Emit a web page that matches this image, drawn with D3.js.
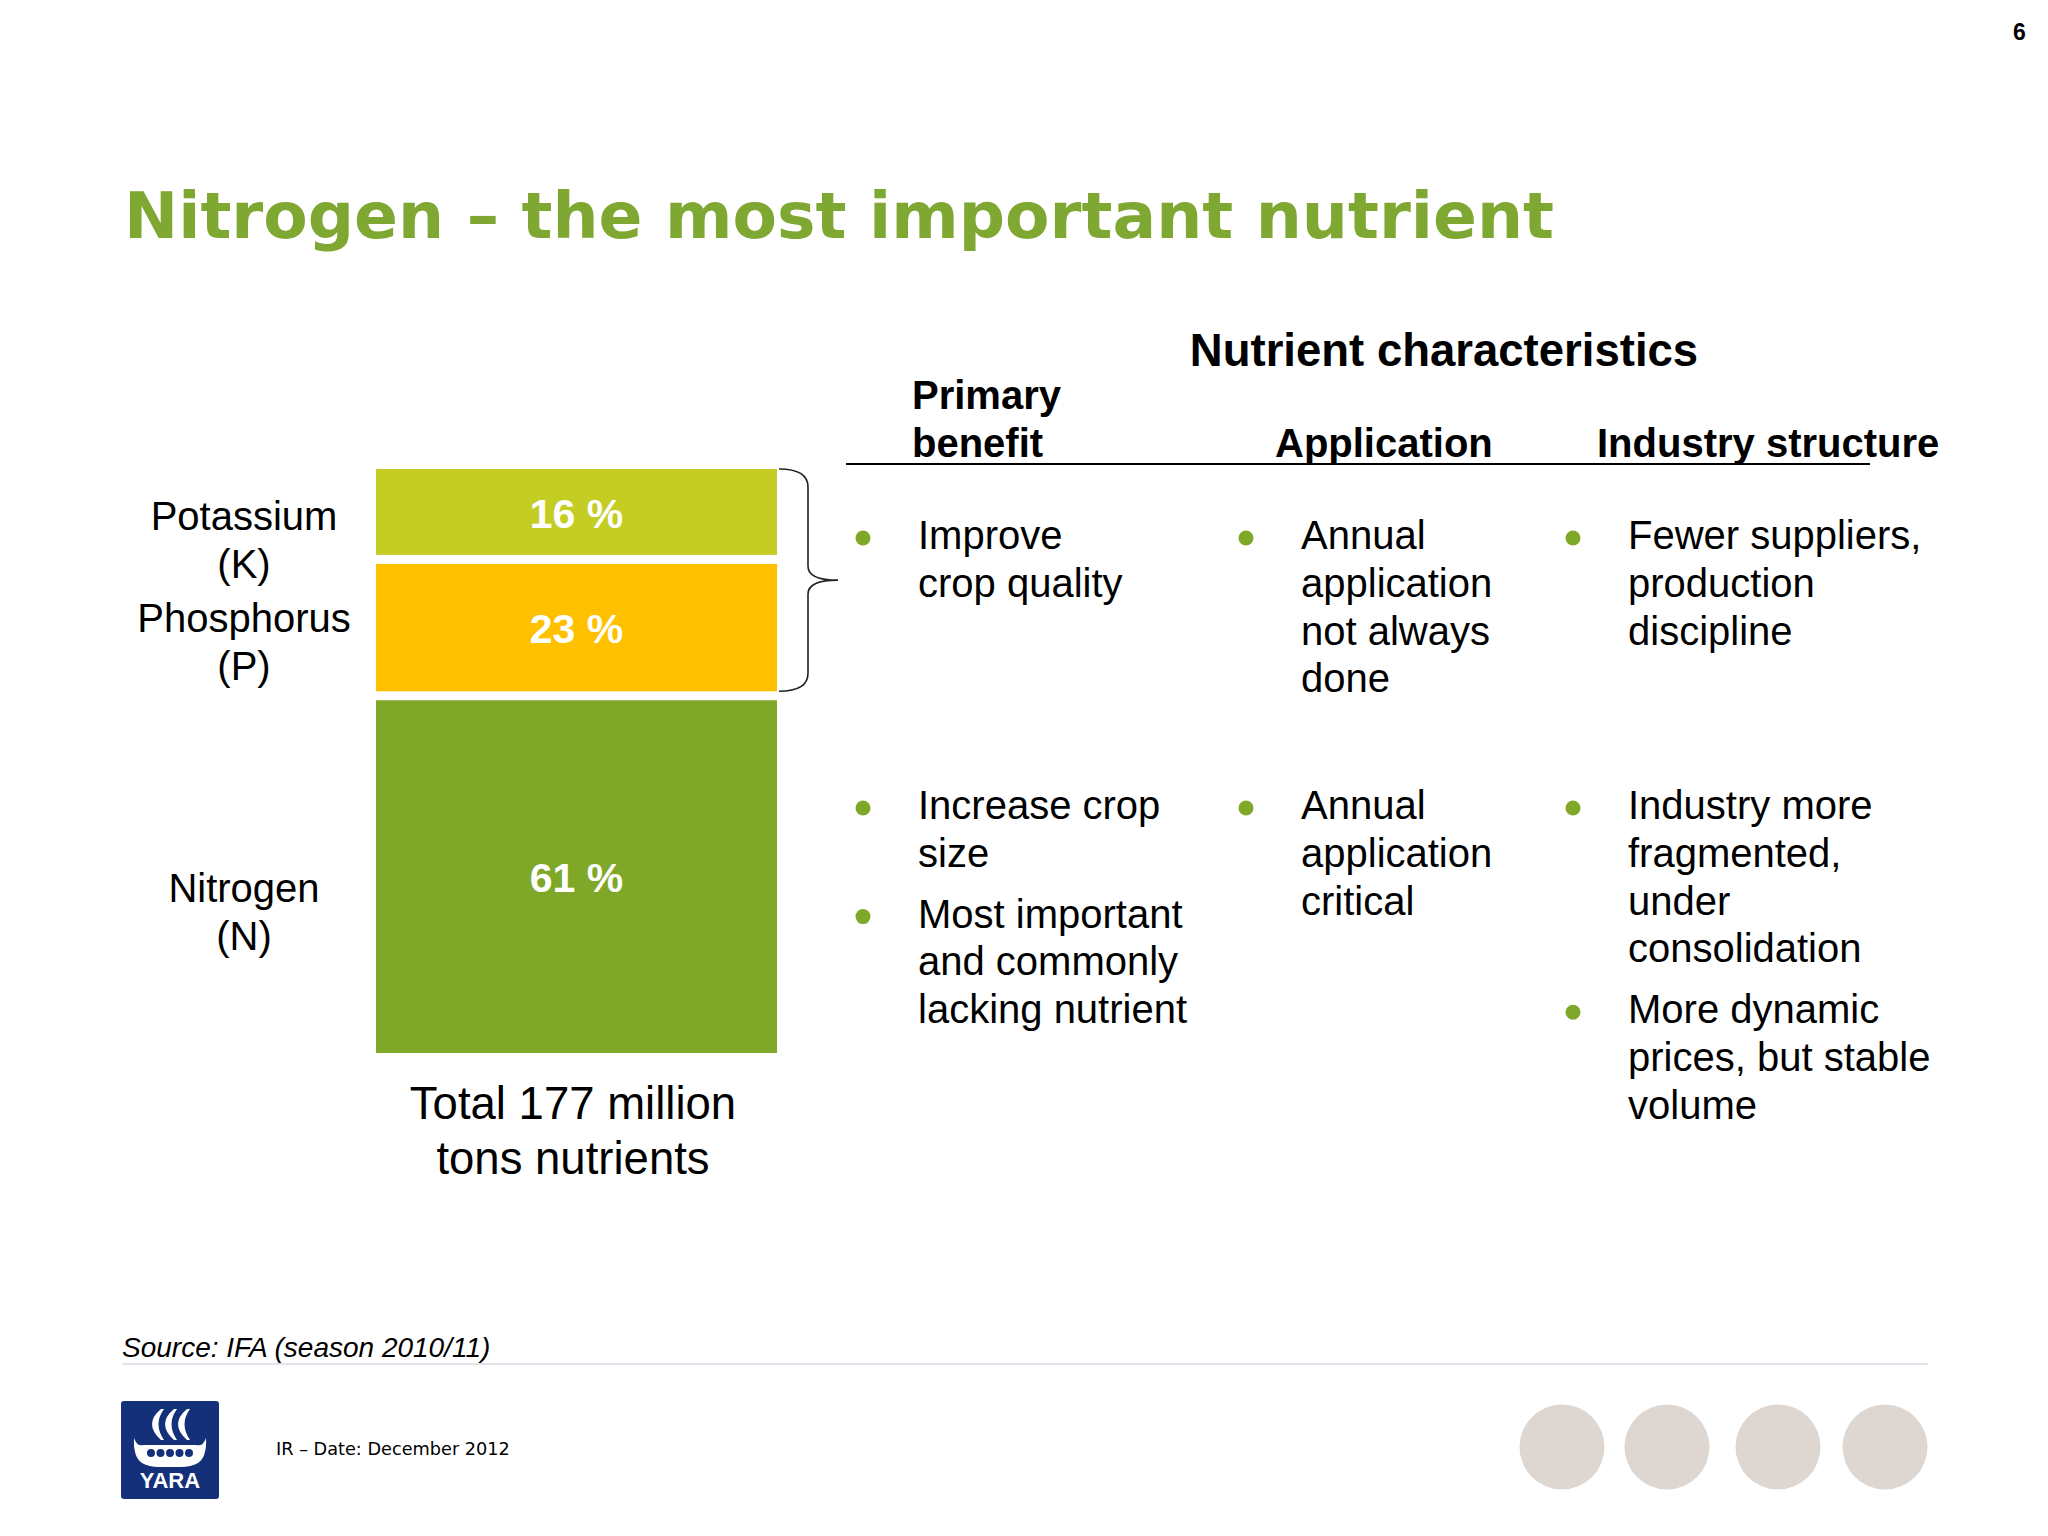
<!DOCTYPE html>
<html>
<head>
<meta charset="utf-8">
<script src="https://cdn.jsdelivr.net/npm/d3@7"></script>
<style>
  body { margin: 0; background: #fff; }
  svg { display: block; }
  text { font-family: "Liberation Sans", Arial, sans-serif; }
</style>
</head>
<body>
<div id="chart"></div>
<script>
// datos
const nutrientKeys = ["N", "P", "K"];
const nutrientNames = ["Nitrogen", "Phosphorus", "Potassium"];
const shares = [61, 23, 16];
const barColors = ["#80a828", "#ffc000", "#c3cd24"];
const totalLabel = ["Total 177 million", "tons nutrients"];

const chartTitle = "Nitrogen \u2013 the most important nutrient";
const tableTitle = "Nutrient characteristics";
const columnHeaders = [["Primary", "benefit"], ["Application"], ["Industry structure"]];

// bullets por columna (cada bullet = lista de lineas)
const bulletsPK = [
  [["Improve", "crop quality"]],
  [["Annual", "application", "not always", "done"]],
  [["Fewer suppliers,", "production", "discipline"]]
];
const bulletsN = [
  [["Increase crop", "size"], ["Most important", "and commonly", "lacking nutrient"]],
  [["Annual", "application", "critical"]],
  [["Industry more", "fragmented,", "under", "consolidation"], ["More dynamic", "prices, but stable", "volume"]]
];

const sourceText = "Source: IFA (season 2010/11)";
const footerText = "IR \u2013 Date: December 2012";
const pageNumber = "6";

const W = 2048, H = 1536;
const green = "#80a828";
const navy = "#14307a";

const svg = d3.select("#chart").append("svg")
  .attr("width", W).attr("height", H)
  .attr("viewBox", `0 0 ${W} ${H}`);

svg.append("rect").attr("width", W).attr("height", H).attr("fill", "#fff");

// titulo
const title = svg.append("text")
  .attr("x", 124).attr("y", 238)
  .attr("fill", "#7fa832")
  .style("font-family", "'DejaVu Sans', Verdana, sans-serif")
  .style("font-weight", "bold")
  .style("font-size", "65px")
  .text(chartTitle);
const tl = title.node().getComputedTextLength();
title.style("font-size", (65 * 1430 / tl) + "px");

svg.append("text")
  .attr("x", 2013).attr("y", 40)
  .style("font-weight", "bold").style("font-size", "23px")
  .text(pageNumber);

// barra apilada
const row = {};
nutrientKeys.forEach((k, i) => (row[k] = shares[i]));
const series = d3.stack().keys(nutrientKeys)([row]);

const gap = 9;
const y = d3.scaleLinear().domain([0, 100]).range([1053 + gap / 2, 469 - gap / 2]);
const x = d3.scaleBand().domain(["total"]).range([376, 777]).padding(0);

const color = d3.scaleOrdinal().domain(nutrientKeys).range(barColors);

const bars = svg.append("g");
bars.selectAll("rect")
  .data(series)
  .join("rect")
  .attr("x", x("total"))
  .attr("width", x.bandwidth())
  .attr("y", (d) => y(d[0][1]) + gap / 2)
  .attr("height", (d) => y(d[0][0]) - y(d[0][1]) - gap)
  .attr("fill", (d) => color(d.key));

bars.selectAll("text")
  .data(series)
  .join("text")
  .attr("x", x("total") + x.bandwidth() / 2)
  .attr("y", (d) => y((d[0][0] + d[0][1]) / 2))
  .attr("dy", "0.38em")
  .attr("text-anchor", "middle")
  .attr("fill", "#fff")
  .style("font-weight", "bold")
  .style("font-size", "41px")
  .text((d, i) => shares[i] + " %");

// etiquetas a la izquierda
const labelShift = [25, 4, 18];
const labels = svg.append("g");
series.forEach((d, i) => {
  const cy = y((d[0][0] + d[0][1]) / 2) + labelShift[i];
  const t = labels.append("text")
    .attr("text-anchor", "middle")
    .style("font-size", "40px");
  t.append("tspan").attr("x", 244).attr("y", cy).text(nutrientNames[i]);
  t.append("tspan").attr("x", 244).attr("y", cy + 48).text("(" + nutrientKeys[i] + ")");
});

// total
const tot = svg.append("text").attr("text-anchor", "middle").style("font-size", "45.5px");
totalLabel.forEach((l, i) => {
  tot.append("tspan").attr("x", 573).attr("y", 1119 + i * 55).text(l);
});

// llave para P + K
const bx0 = 779, bx1 = 808, bxt = 838;
const bTopY = y(100) + gap / 2, bBotY = y(shares[0]) - gap / 2;
const bMid = (bTopY + bBotY) / 2;
svg.append("path")
  .attr("d", `M${bx0},${bTopY} Q${bx1},${bTopY} ${bx1},${bTopY + 18}
     L${bx1},${bMid - 14} Q${bx1},${bMid} ${bxt},${bMid}
     Q${bx1},${bMid} ${bx1},${bMid + 14}
     L${bx1},${bBotY - 18} Q${bx1},${bBotY} ${bx0},${bBotY}`)
  .attr("fill", "none")
  .attr("stroke", "#222")
  .attr("stroke-width", 1.6);

// tabla de caracteristicas
svg.append("text")
  .attr("x", 1444).attr("y", 366)
  .attr("text-anchor", "middle")
  .style("font-weight", "bold").style("font-size", "45.5px")
  .text(tableTitle);

const headerX = [912, 1275, 1597];
columnHeaders.forEach((lines, c) => {
  const t = svg.append("text").style("font-weight", "bold").style("font-size", "40px");
  lines.forEach((l, j) => {
    t.append("tspan").attr("x", headerX[c]).attr("y", 457 - (lines.length - 1 - j) * 48).text(l);
  });
});

svg.append("line")
  .attr("x1", 846).attr("x2", 1870)
  .attr("y1", 464).attr("y2", 464)
  .attr("stroke", "#000").attr("stroke-width", 2);

const bulletX = [863, 1246, 1573];
const textX = [918, 1301, 1628];
const lineH = 47.8, paraGap = 13;

function drawBullets(groups, startY) {
  groups.forEach((items, c) => {
    let yy = startY;
    items.forEach((lines) => {
      svg.append("circle")
        .attr("cx", bulletX[c]).attr("cy", yy - 11)
        .attr("r", 7.5).attr("fill", green);
      const t = svg.append("text").style("font-size", "40px");
      lines.forEach((l, j) => {
        t.append("tspan").attr("x", textX[c]).attr("y", yy + j * lineH).text(l);
      });
      yy += lines.length * lineH + paraGap;
    });
  });
}
drawBullets(bulletsPK, 549);
drawBullets(bulletsN, 819);

// pie de pagina
svg.append("text")
  .attr("x", 122).attr("y", 1357)
  .style("font-style", "italic").style("font-size", "28px")
  .text(sourceText);

svg.append("line")
  .attr("x1", 122).attr("x2", 1928)
  .attr("y1", 1364).attr("y2", 1364)
  .attr("stroke", "#e2e2ea").attr("stroke-width", 2);

// logo
const logo = svg.append("g").attr("transform", "translate(121,1401)");
logo.append("rect").attr("width", 98).attr("height", 98).attr("rx", 3).attr("fill", navy);
[0, 1, 2].forEach((i) => {
  const x0 = 28 + i * 13;
  logo.append("path")
    .attr("d", `M${x0 + 12},8 Q${x0 - 6},23 ${x0 + 12},39 L${x0 + 15},39 Q${x0 + 4},23 ${x0 + 15},8 Z`)
    .attr("fill", "#fff");
});
logo.append("path")
  .attr("d", "M13,37 Q16,46 23,44 L75,44 Q82,46 85,37 Q86,56 77,62 Q70,66 60,66 L38,66 Q28,66 21,62 Q12,56 13,37 Z")
  .attr("fill", "#fff");
[0, 1, 2, 3, 4].forEach((i) => {
  logo.append("circle").attr("cx", 30 + i * 9.5).attr("cy", 52).attr("r", 4)
    .attr("fill", navy);
});
logo.append("text")
  .attr("x", 49).attr("y", 87)
  .attr("text-anchor", "middle")
  .attr("fill", "#fff")
  .style("font-weight", "bold").style("font-size", "22px")
  .text("YARA");

svg.append("text")
  .attr("x", 276).attr("y", 1455)
  .style("font-family", "'DejaVu Sans', Verdana, sans-serif")
  .style("font-size", "17.7px")
  .text(footerText);

const dots = [1562, 1667, 1778, 1885];
svg.selectAll("circle.nav")
  .data(dots)
  .join("circle")
  .attr("class", "nav")
  .attr("cx", (d) => d).attr("cy", 1447).attr("r", 42.5)
  .attr("fill", "#ddd6d1");
</script>
</body>
</html>
